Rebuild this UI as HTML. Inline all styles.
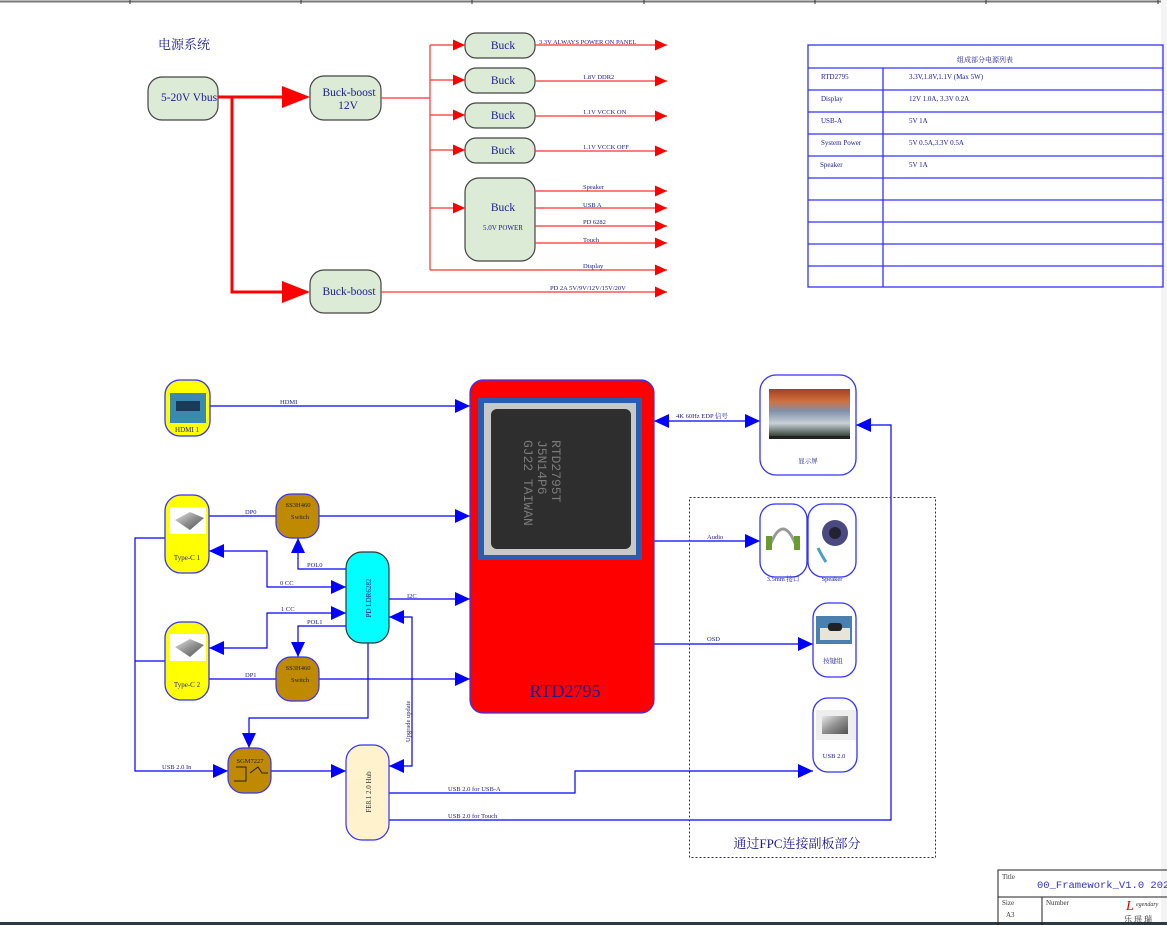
<!DOCTYPE html>
<html><head><meta charset="utf-8"><style>
html,body{margin:0;padding:0;background:#fff;width:1167px;height:925px;overflow:hidden}
svg{display:block}
text{font-family:"Liberation Serif","Noto Serif CJK SC",serif;fill:#1a1a8c}
text.mono{font-family:"Liberation Mono",monospace}
</style></head><body>
<svg width="1167" height="925" viewBox="0 0 1167 925" xmlns="http://www.w3.org/2000/svg">
<defs>
<marker id="ab" markerUnits="userSpaceOnUse" markerWidth="16" markerHeight="14" refX="15" refY="7" orient="auto"><path d="M0,0 L15,7 L0,14 z" fill="#0000ff"/></marker>
<marker id="abs" markerUnits="userSpaceOnUse" markerWidth="16" markerHeight="14" refX="0" refY="7" orient="auto"><path d="M15,0 L0,7 L15,14 z" fill="#0000ff"/></marker>
<marker id="ar" markerUnits="userSpaceOnUse" markerWidth="13" markerHeight="11" refX="12" refY="5.5" orient="auto"><path d="M0,0 L12,5.5 L0,11 z" fill="#ff0000"/></marker>
<linearGradient id="scr" x1="0" y1="0" x2="0" y2="1"><stop offset="0" stop-color="#a04020"/><stop offset="0.25" stop-color="#d07040"/><stop offset="0.45" stop-color="#8090a8"/><stop offset="0.7" stop-color="#c8d0d8"/><stop offset="1" stop-color="#203020"/></linearGradient>
<linearGradient id="met" x1="0" y1="0" x2="1" y2="1"><stop offset="0" stop-color="#e8e8e8"/><stop offset="0.5" stop-color="#909090"/><stop offset="1" stop-color="#505050"/></linearGradient>
</defs>

<line x1="0" y1="1.5" x2="1167" y2="1.5" stroke="#777" stroke-width="2"/>
<g stroke="#333" stroke-width="1"><line x1="130" y1="0" x2="130" y2="4"/><line x1="301" y1="0" x2="301" y2="4"/><line x1="472" y1="0" x2="472" y2="4"/><line x1="644" y1="0" x2="644" y2="4"/><line x1="815" y1="0" x2="815" y2="4"/><line x1="986" y1="0" x2="986" y2="4"/><line x1="1158" y1="0" x2="1158" y2="4"/></g>
<rect x="1161" y="0" width="6" height="925" fill="#f4f4f4"/>
<line x1="0" y1="923.5" x2="1167" y2="923.5" stroke="#2a3a44" stroke-width="3"/>

<text x="158" y="49" font-size="13" fill="#3030a0">电源系统</text>
<g fill="#dcebd5" stroke="#444" stroke-width="1.2">
<rect x="148" y="77" width="70" height="43" rx="14"/>
<rect x="310" y="76" width="71" height="44" rx="14"/>
<rect x="310" y="270" width="71" height="43" rx="14"/>
<rect x="465" y="33" width="70" height="25" rx="11"/>
<rect x="465" y="68" width="70" height="25" rx="11"/>
<rect x="465" y="103" width="70" height="25" rx="11"/>
<rect x="465" y="138" width="70" height="25" rx="11"/>
<rect x="465" y="178" width="70" height="83" rx="14"/>
</g>
<g font-size="11.5" text-anchor="middle">
<text x="189" y="101">5-20V Vbus</text>
<text x="349" y="96">Buck-boost</text><text x="348" y="109">12V</text>
<text x="349" y="295">Buck-boost</text>
<text x="503" y="49">Buck</text><text x="503" y="84">Buck</text><text x="503" y="119">Buck</text><text x="503" y="154">Buck</text>
<text x="503" y="211">Buck</text>
</g>
<text x="503" y="230" font-size="7" text-anchor="middle">5.0V POWER</text>
<g stroke="#ff0000" stroke-width="3" fill="none"><polyline points="218,97 285,97"/><polyline points="232,97 232,292 285,292"/></g>
<path d="M282,86 L310,97 L282,108 z" fill="#ff0000"/><path d="M282,281 L310,292 L282,303 z" fill="#ff0000"/>
<g stroke="#ff3030" stroke-width="1.2" fill="none">
<polyline points="381,98 430,98"/><line x1="430" y1="45" x2="430" y2="270"/>
<line x1="430" y1="45" x2="465" y2="45" marker-end="url(#ar)"/>
<line x1="430" y1="80" x2="465" y2="80" marker-end="url(#ar)"/>
<line x1="430" y1="115" x2="465" y2="115" marker-end="url(#ar)"/>
<line x1="430" y1="150" x2="465" y2="150" marker-end="url(#ar)"/>
<line x1="430" y1="208" x2="465" y2="208" marker-end="url(#ar)"/>
<line x1="535" y1="45" x2="667" y2="45" marker-end="url(#ar)"/>
<line x1="535" y1="81" x2="667" y2="81" marker-end="url(#ar)"/>
<line x1="535" y1="116" x2="667" y2="116" marker-end="url(#ar)"/>
<line x1="535" y1="151" x2="667" y2="151" marker-end="url(#ar)"/>
<line x1="535" y1="191" x2="667" y2="191" marker-end="url(#ar)"/>
<line x1="535" y1="208" x2="667" y2="208" marker-end="url(#ar)"/>
<line x1="535" y1="226" x2="667" y2="226" marker-end="url(#ar)"/>
<line x1="535" y1="243" x2="667" y2="243" marker-end="url(#ar)"/>
<line x1="430" y1="270" x2="667" y2="270" marker-end="url(#ar)"/>
<line x1="381" y1="292" x2="667" y2="292" marker-end="url(#ar)"/>
</g>
<g font-size="6.5">
<text x="539" y="44">3.3V ALWAYS POWER ON PANEL</text>
<text x="583" y="79">1.8V DDR2</text>
<text x="583" y="114">1.1V  VCCK ON</text>
<text x="583" y="149">1.1V  VCCK OFF</text>
<text x="583" y="189">Speaker</text>
<text x="583" y="207">USB A</text>
<text x="583" y="224">PD 6282</text>
<text x="583" y="242">Touch</text>
<text x="583" y="268">Display</text>
<text x="550" y="290">PD 2A 5V/9V/12V/15V/20V</text>
</g>

<g stroke="#3333ff" stroke-width="1.3" fill="none">
<rect x="808" y="45" width="355" height="242"/>
<line x1="808" y1="68" x2="1163" y2="68"/><line x1="808" y1="90" x2="1163" y2="90"/><line x1="808" y1="112" x2="1163" y2="112"/><line x1="808" y1="134" x2="1163" y2="134"/><line x1="808" y1="156" x2="1163" y2="156"/><line x1="808" y1="178" x2="1163" y2="178"/><line x1="808" y1="200" x2="1163" y2="200"/><line x1="808" y1="222" x2="1163" y2="222"/><line x1="808" y1="244" x2="1163" y2="244"/><line x1="808" y1="266" x2="1163" y2="266"/>
<line x1="883" y1="68" x2="883" y2="287"/>
</g>
<g font-size="7">
<text x="985" y="62" text-anchor="middle">组成部分电源列表</text>
<text x="821" y="79">RTD2795</text><text x="909" y="79">3.3V,1.8V,1.1V (Max 5W)</text>
<text x="821" y="101">Display</text><text x="909" y="101">12V 1.0A, 3.3V 0.2A</text>
<text x="821" y="123">USB-A</text><text x="909" y="123">5V 1A</text>
<text x="821" y="145">System Power</text><text x="909" y="145">5V 0.5A,3.3V 0.5A</text>
<text x="820" y="167">Speaker</text><text x="909" y="167">5V 1A</text>
</g>

<g stroke="#0000ff" stroke-width="1.2" fill="none">
<line x1="210" y1="406" x2="470" y2="406" marker-end="url(#ab)"/>
<line x1="209" y1="516" x2="276" y2="516"/>
<line x1="319" y1="516" x2="470" y2="516" marker-end="url(#ab)"/>
<line x1="209" y1="679" x2="276" y2="679"/>
<line x1="319" y1="679" x2="470" y2="679" marker-end="url(#ab)"/>
<polyline points="346,569 298,569 298,538" marker-end="url(#ab)"/>
<polyline points="346,626 298,626 298,657" marker-end="url(#ab)"/>
<polyline points="346,587 267,587 267,551 209,551" marker-start="url(#abs)" marker-end="url(#ab)"/>
<polyline points="346,613 267,613 267,648 209,648" marker-start="url(#abs)" marker-end="url(#ab)"/>
<line x1="389" y1="599" x2="470" y2="599" marker-end="url(#ab)"/>
<polyline points="165,538 135,538 135,771 228,771" marker-end="url(#ab)"/>
<line x1="135" y1="661" x2="165" y2="661"/>
<polyline points="368,643 368,718 249,718 249,748" marker-end="url(#ab)"/>
<line x1="271" y1="771" x2="346" y2="771" marker-end="url(#ab)"/>
<polyline points="389,617 412,617 412,766 389,766" marker-start="url(#abs)" marker-end="url(#ab)"/>
<polyline points="389,793 575,793 575,771 813,771" marker-end="url(#ab)"/>
<polyline points="389,820 891,820 891,425 856,425" marker-end="url(#ab)"/>
<line x1="654" y1="421" x2="760" y2="421" marker-start="url(#abs)" marker-end="url(#ab)"/>
<line x1="654" y1="541" x2="760" y2="541" marker-end="url(#ab)"/>
<line x1="654" y1="644" x2="813" y2="644" marker-end="url(#ab)"/>
</g>
<g font-size="6.5">
<text x="280" y="404">HDMI</text>
<text x="245" y="514">DP0</text><text x="245" y="677">DP1</text>
<text x="307" y="567">POL0</text><text x="307" y="624">POL1</text>
<text x="280" y="585">0  CC</text><text x="281" y="611">1  CC</text>
<text x="407" y="598">I2C</text>
<text x="162" y="769">USB 2.0 In</text>
<text x="448" y="791">USB 2.0 for USB-A</text>
<text x="448" y="818">USB 2.0 for Touch</text>
<text x="676" y="418">4K 60Hz EDP 信号</text>
<text x="707" y="539">Audio</text>
<text x="707" y="641">OSD</text>
<text transform="translate(410,742) rotate(-90)" font-size="6.5">Upgrade update</text>
</g>

<rect x="470" y="380" width="184" height="333" rx="13" fill="#ff0000" stroke="#3333ff" stroke-width="1.2"/>
<rect x="478" y="398" width="164" height="162" fill="#2a5cb0"/>
<rect x="484" y="403" width="152" height="152" fill="#c8c8c8"/>
<rect x="491" y="409" width="140" height="140" rx="6" fill="#2e2e2e"/>
<g font-size="13" transform="translate(552,440) rotate(90)"><text class="mono" x="0" y="0" style="fill:#7a7a7a">RTD2795T</text><text class="mono" x="0" y="14" style="fill:#7a7a7a">J5N14P6</text><text class="mono" x="0" y="28" style="fill:#7a7a7a">GJ22 TAIWAN</text></g>
<text x="565" y="697" font-size="18" text-anchor="middle" fill="#1a1a99">RTD2795</text>

<g fill="#ffff00" stroke="#3333ff" stroke-width="1.3">
<rect x="165" y="380" width="45" height="56" rx="15"/>
<rect x="165" y="495" width="44" height="78" rx="16"/>
<rect x="165" y="622" width="44" height="78" rx="16"/>
</g>
<rect x="170" y="393" width="36" height="30" fill="#3a8ab0"/><rect x="176" y="401" width="24" height="10" fill="#1a3a58"/>
<rect x="170" y="507" width="36" height="27" fill="#fff"/><path d="M175,520 L190,512 L204,518 L190,530 z" fill="url(#met)"/>
<rect x="170" y="634" width="36" height="27" fill="#fff"/><path d="M175,647 L190,639 L204,645 L190,657 z" fill="url(#met)"/>
<g font-size="7" text-anchor="middle">
<text x="187" y="432">HDMI 1</text><text x="187" y="560">Type-C 1</text><text x="187" y="687">Type-C 2</text>
</g>
<g fill="#bf8a00" stroke="#3333ff" stroke-width="1.2">
<rect x="276" y="494" width="43" height="44" rx="15"/>
<rect x="276" y="657" width="43" height="44" rx="15"/>
<rect x="228" y="748" width="43" height="45" rx="15"/>
</g>
<g font-size="6.5" text-anchor="middle">
<text x="298" y="507" style="fill:#222">SS3H460</text><text x="300" y="519" style="fill:#222">Switch</text>
<text x="298" y="670" style="fill:#222">SS3H460</text><text x="300" y="682" style="fill:#222">Switch</text>
<text x="250" y="763" style="fill:#222">SGM7227</text>
</g>
<polyline points="236,767 246,767 246,781 234,781" stroke="#222" fill="none" stroke-width="1"/><polyline points="250,773 258,767 262,773 268,773" stroke="#222" fill="none" stroke-width="1"/>
<rect x="346" y="552" width="43" height="91" rx="16" fill="#00ffff" stroke="#333" stroke-width="1.2"/>
<text transform="translate(371,598) rotate(-90)" font-size="7" text-anchor="middle">PD LDR6282</text>
<rect x="346" y="745" width="43" height="95" rx="16" fill="#fff2cc" stroke="#3333ff" stroke-width="1.2"/>
<text transform="translate(371,792) rotate(-90)" font-size="7" text-anchor="middle" style="fill:#333">FE8.1       2.0 Hub</text>

<rect x="689.5" y="497.5" width="246" height="360" fill="none" stroke="#333" stroke-dasharray="2,2" stroke-width="1"/>
<text x="797" y="848" font-size="13" text-anchor="middle" fill="#3030a0">通过FPC连接副板部分</text>
<g fill="#fff" stroke="#3333ff" stroke-width="1.3">
<rect x="760" y="375" width="96" height="100" rx="16"/>
<rect x="760" y="504" width="47" height="73" rx="15"/>
<rect x="808" y="504" width="48" height="73" rx="15"/>
<rect x="813" y="603" width="43" height="74" rx="15"/>
<rect x="813" y="698" width="44" height="74" rx="15"/>
</g>
<rect x="769" y="389" width="81" height="49" fill="url(#scr)"/><rect x="769" y="436" width="81" height="3" fill="#222"/>
<path d="M769,548 Q783,510 797,548" stroke="#999" stroke-width="3" fill="none"/><rect x="766" y="536" width="6" height="14" fill="#6a9a30"/><rect x="794" y="536" width="6" height="14" fill="#6a9a30"/>
<circle cx="835" cy="533" r="13" fill="#4a4a80"/><circle cx="835" cy="533" r="6" fill="#223"/><path d="M818,548 q4,8 8,14" stroke="#4aa0c0" stroke-width="3" fill="none"/>
<rect x="816" y="616" width="36" height="28" fill="#4a80b0"/><rect x="820" y="628" width="30" height="12" fill="#e8e4d8"/><rect x="828" y="623" width="14" height="8" rx="3" fill="#222"/>
<rect x="816" y="710" width="40" height="30" fill="#eee"/><rect x="822" y="716" width="26" height="18" fill="url(#met)"/>
<g font-size="6.5" text-anchor="middle">
<text x="808" y="463">显示屏</text>
<text x="783" y="581">3.5mm 接口</text>
<text x="832" y="581">Speaker</text>
<text x="833" y="663">按键组</text>
<text x="834" y="758">USB 2.0</text>
</g>

<g stroke="#222" stroke-width="1" fill="none">
<polyline points="998,925 998,870 1167,870"/>
<line x1="998" y1="897" x2="1167" y2="897"/>
<line x1="1042" y1="897" x2="1042" y2="925"/>
</g>
<g font-size="7">
<text x="1002" y="879" style="fill:#333">Title</text>
<text x="1002" y="905" style="fill:#333">Size</text>
<text x="1006" y="917" style="fill:#333">A3</text>
<text x="1046" y="905" style="fill:#333">Number</text>
</g>
<text class="mono" x="1037" y="888" font-size="10.5" style="fill:#3333cc">00_Framework_V1.0 2020</text>
<text x="1126" y="910" font-size="14" font-style="italic" style="fill:#d00">L</text>
<text x="1136" y="906" font-size="6" font-style="italic" style="fill:#333">egendary</text>
<text x="1124" y="922" font-size="8" style="fill:#222">乐 瑶 瑞</text>
</svg>
</body></html>
